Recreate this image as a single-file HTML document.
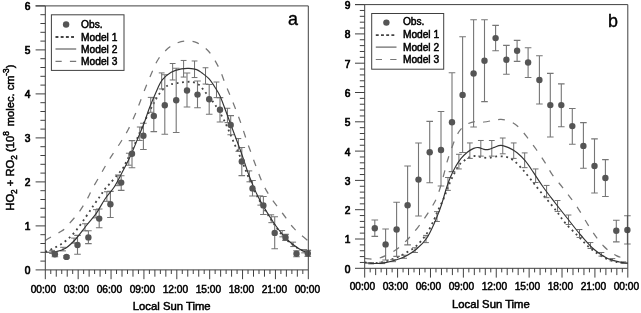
<!DOCTYPE html>
<html><head><meta charset="utf-8"><title>HO2 + RO2 diurnal profiles</title>
<style>
html,body{margin:0;padding:0;background:#fff;}
svg{display:block;}
text{font-family:"Liberation Sans",sans-serif;fill:#000;stroke:#000;stroke-width:.5px;}
.t10{font-size:10.2px;}
.ty{stroke-width:.7px;}
.t11{font-size:11.3px;}
.tlg{font-size:10.2px;}
.t11y{font-size:11.2px;}
.sub{font-size:8.3px;}
.tl{font-size:17.9px;stroke-width:.35px;}
</style></head><body>
<svg width="641" height="313" viewBox="0 0 641 313">
<rect width="641" height="313" fill="#fff"/>
<path d="M35.60 269.90H45.30M40.40 261.10H45.30M40.40 252.30H45.30M40.40 243.50H45.30M40.40 234.70H45.30M35.60 225.90H45.30M40.40 217.10H45.30M40.40 208.30H45.30M40.40 199.50H45.30M40.40 190.70H45.30M35.60 181.90H45.30M40.40 173.10H45.30M40.40 164.30H45.30M40.40 155.50H45.30M40.40 146.70H45.30M35.60 137.90H45.30M40.40 129.10H45.30M40.40 120.30H45.30M40.40 111.50H45.30M40.40 102.70H45.30M35.60 93.90H45.30M40.40 85.10H45.30M40.40 76.30H45.30M40.40 67.50H45.30M40.40 58.70H45.30M35.60 49.90H45.30M40.40 41.10H45.30M40.40 32.30H45.30M40.40 23.50H45.30M40.40 14.70H45.30M35.60 5.90H45.30M45.30 269.90V279.20M50.78 269.90V274.00M56.26 269.90V276.70M61.74 269.90V274.00M67.22 269.90V276.70M72.70 269.90V274.00M78.17 269.90V279.20M83.65 269.90V274.00M89.13 269.90V276.70M94.61 269.90V274.00M100.09 269.90V276.70M105.57 269.90V274.00M111.05 269.90V279.20M116.53 269.90V274.00M122.01 269.90V276.70M127.49 269.90V274.00M132.97 269.90V276.70M138.45 269.90V274.00M143.93 269.90V279.20M149.40 269.90V274.00M154.88 269.90V276.70M160.36 269.90V274.00M165.84 269.90V276.70M171.32 269.90V274.00M176.80 269.90V279.20M182.28 269.90V274.00M187.76 269.90V276.70M193.24 269.90V274.00M198.72 269.90V276.70M204.20 269.90V274.00M209.68 269.90V279.20M215.15 269.90V274.00M220.63 269.90V276.70M226.11 269.90V274.00M231.59 269.90V276.70M237.07 269.90V274.00M242.55 269.90V279.20M248.03 269.90V274.00M253.51 269.90V276.70M258.99 269.90V274.00M264.47 269.90V276.70M269.95 269.90V274.00M275.43 269.90V279.20M280.90 269.90V274.00M286.38 269.90V276.70M291.86 269.90V274.00M297.34 269.90V276.70M302.82 269.90V274.00M308.30 269.90V279.20" stroke="#404040" stroke-width="1" fill="none"/>
<path d="M45.3 240.5C46.1 240.0 47.5 239.1 50.2 237.5C52.9 235.9 59.1 232.7 61.7 231.0C64.3 229.3 62.8 230.5 65.6 227.5C68.4 224.5 74.8 217.7 78.4 212.9C82.0 208.1 84.9 203.0 87.3 198.8C89.7 194.7 90.3 192.3 92.7 188.0C95.1 183.7 98.8 177.6 101.6 172.7C104.4 167.8 106.6 163.7 109.8 158.6C113.0 153.5 117.7 146.9 120.8 142.0C123.9 137.1 126.2 133.5 128.5 129.0C130.8 124.5 133.1 119.2 134.9 115.1C136.7 111.0 137.4 108.8 139.2 104.2C141.0 99.6 143.5 92.8 145.6 87.5C147.7 82.2 149.9 77.0 152.0 72.2C154.1 67.5 155.6 63.1 158.4 59.0C161.2 54.9 165.4 50.5 168.6 47.8C171.8 45.1 174.5 43.9 177.5 42.8C180.5 41.7 183.3 41.0 186.5 41.0C189.7 41.0 193.0 40.9 196.7 42.6C200.4 44.4 205.1 47.3 208.8 51.5C212.5 55.7 216.2 62.5 219.0 68.0C221.8 73.5 223.4 79.5 225.6 84.8C227.8 90.1 230.0 95.2 232.0 100.1C234.0 105.0 235.9 109.7 237.6 114.2C239.3 118.7 240.6 122.3 242.2 127.0C243.8 131.7 245.6 137.5 247.3 142.4C249.0 147.3 250.7 151.8 252.4 156.5C254.1 161.2 255.8 165.8 257.6 170.5C259.4 175.2 261.0 179.9 263.2 184.5C265.4 189.1 267.8 193.2 271.0 198.0C274.2 202.8 278.5 208.0 282.3 213.0C286.1 218.0 289.5 223.5 293.8 228.2C298.1 232.9 305.9 238.9 308.3 241.0" stroke="#777777" stroke-width="1.25" stroke-dasharray="6.8 8.4" fill="none"/>
<path d="M45.3 251.8C47.0 251.1 51.9 249.2 55.3 247.4C58.7 245.6 62.2 243.8 65.6 241.0C69.0 238.2 72.4 234.9 75.8 230.8C79.2 226.8 83.0 221.0 86.0 216.7C89.0 212.4 91.4 208.6 93.7 205.2C96.0 201.8 98.3 198.8 100.1 196.3C101.8 193.8 102.7 192.0 104.2 190.0C105.7 188.0 107.0 186.9 109.3 184.2C111.6 181.5 115.8 176.8 118.2 174.0C120.6 171.2 122.1 169.4 123.4 167.5C124.7 165.6 124.3 165.8 126.0 162.4C127.7 159.0 131.3 152.1 133.6 147.0C135.9 141.9 137.9 136.6 140.0 131.7C142.1 126.8 144.2 122.3 146.4 117.7C148.6 113.1 151.2 108.0 153.2 104.2C155.2 100.5 156.5 98.0 158.4 95.2C160.3 92.4 162.7 89.3 164.8 87.5C166.9 85.7 168.4 85.0 171.2 84.2C174.0 83.4 178.0 82.8 181.4 82.4C184.8 82.0 188.6 81.5 191.6 81.9C194.6 82.3 197.2 83.5 199.3 85.0C201.4 86.5 202.2 88.4 204.0 90.6C205.8 92.8 208.1 95.5 210.0 98.0C211.9 100.5 213.2 101.8 215.6 105.6C218.0 109.4 221.4 114.8 224.3 120.7C227.2 126.6 230.8 135.4 233.2 141.0C235.6 146.6 237.0 149.4 239.0 154.0C241.0 158.6 242.7 162.8 245.0 168.5C247.3 174.2 250.2 181.9 253.0 188.0C255.8 194.1 258.8 199.5 262.0 205.0C265.2 210.5 268.5 215.8 272.0 221.0C275.5 226.2 279.2 231.8 283.0 236.0C286.8 240.2 290.8 243.7 295.0 246.5C299.2 249.3 306.1 251.9 308.3 253.0" stroke="#444444" stroke-width="1.8" stroke-dasharray="1.9 3.6" fill="none"/>
<path d="M52.10 250.41V253.51M49.20 250.41H55.00M49.20 253.51H55.00M63.06 247.29V250.89M60.16 247.29H65.96M60.16 250.89H65.96M74.02 238.08V243.14M71.12 238.08H76.92M71.12 243.14H76.92M84.97 223.77V230.84M82.07 223.77H87.88M82.07 230.84H87.88M95.93 209.64V217.87M93.03 209.64H98.83M93.03 217.87H98.83M106.89 191.76V201.29M103.99 191.76H109.79M103.99 201.29H109.79M117.85 175.01V185.66M114.95 175.01H120.75M114.95 185.66H120.75M128.81 153.23V165.19M125.91 153.23H131.71M125.91 165.19H131.71M139.77 127.00V140.41M136.87 127.00H142.67M136.87 140.41H142.67M150.72 97.38V112.28M147.82 97.38H153.62M147.82 112.28H153.62M161.68 72.91V88.96M158.78 72.91H164.58M158.78 88.96H164.58M172.64 63.50V79.97M169.74 63.50H175.54M169.74 79.97H175.54M183.60 60.45V77.06M180.70 60.45H186.50M180.70 77.06H186.50M194.56 60.97V77.56M191.66 60.97H197.46M191.66 77.56H197.46M205.52 67.76V84.05M202.62 67.76H208.42M202.62 84.05H208.42M216.47 82.02V97.65M213.57 82.02H219.38M213.57 97.65H219.38M227.43 108.26V122.63M224.53 108.26H230.33M224.53 122.63H230.33M238.39 138.59V151.37M235.49 138.59H241.29M235.49 151.37H241.29M249.35 170.90V181.80M246.45 170.90H252.25M246.45 181.80H252.25M260.31 195.88V205.13M257.41 195.88H263.21M257.41 205.13H263.21M271.27 214.84V222.67M268.37 214.84H274.17M268.37 222.67H274.17M282.23 230.57V236.83M279.33 230.57H285.12M279.33 236.83H285.12M293.18 242.15V246.56M290.28 242.15H296.08M290.28 246.56H296.08M304.14 249.63V252.85M301.24 249.63H307.04M301.24 252.85H307.04" stroke="#707070" stroke-width="1" fill="none"/>
<path d="M54.90 251.80V256.80M51.60 251.80H58.20M51.60 256.80H58.20M66.50 255.90V257.90M63.20 255.90H69.80M63.20 257.90H69.80M77.50 235.40V254.30M74.20 235.40H80.80M74.20 254.30H80.80M88.40 230.80V243.60M85.10 230.80H91.70M85.10 243.60H91.70M99.20 209.00V227.70M95.90 209.00H102.50M95.90 227.70H102.50M110.40 191.40V217.50M107.10 191.40H113.70M107.10 217.50H113.70M121.20 175.70V190.40M117.90 175.70H124.50M117.90 190.40H124.50M132.00 140.60V167.70M128.70 140.60H135.30M128.70 167.70H135.30M143.40 123.30V149.50M140.10 123.30H146.70M140.10 149.50H146.70M153.80 97.70V131.60M150.50 97.70H157.10M150.50 131.60H157.10M164.80 74.70V134.20M161.50 74.70H168.10M161.50 134.20H168.10M176.20 68.20V132.50M172.90 68.20H179.50M172.90 132.50H179.50M187.00 73.00V107.00M183.70 73.00H190.30M183.70 107.00H190.30M197.50 81.00V107.80M194.20 81.00H200.80M194.20 107.80H200.80M209.20 84.50V114.20M205.90 84.50H212.50M205.90 114.20H212.50M220.00 97.60V122.00M216.70 97.60H223.30M216.70 122.00H223.30M230.70 115.60V134.80M227.40 115.60H234.00M227.40 134.80H234.00M241.80 147.50V175.60M238.50 147.50H245.10M238.50 175.60H245.10M252.50 180.50V196.00M249.20 180.50H255.80M249.20 196.00H255.80M263.40 196.50V214.50M260.10 196.50H266.70M260.10 214.50H266.70M274.70 216.70V248.70M271.40 216.70H278.00M271.40 248.70H278.00M285.50 234.40V240.40M282.20 234.40H288.80M282.20 240.40H288.80M296.50 250.80V256.80M293.20 250.80H299.80M293.20 256.80H299.80M307.80 250.40V256.40M304.50 250.40H311.10M304.50 256.40H311.10" stroke="#767676" stroke-width="1.1" fill="none"/>
<path d="M45.3 252.3C47.0 252.2 51.9 252.5 55.3 251.8C58.7 251.1 62.2 250.3 65.6 248.2C69.0 246.1 72.4 242.7 75.8 239.0C79.2 235.3 82.6 230.3 86.0 226.0C89.4 221.7 93.1 217.8 96.3 213.3C99.5 208.8 102.0 203.4 105.0 199.0C108.0 194.6 111.3 191.5 114.4 186.7C117.5 181.9 120.6 175.4 123.4 170.1C126.2 164.8 128.7 159.9 131.0 154.8C133.3 149.7 135.3 144.5 137.4 139.4C139.5 134.3 141.8 129.2 143.8 124.0C145.8 118.8 147.4 113.2 149.4 108.0C151.4 102.8 153.7 97.4 155.8 92.7C157.9 88.0 159.6 83.3 162.2 79.9C164.8 76.5 168.0 74.0 171.2 72.2C174.4 70.4 178.4 69.5 181.4 68.9C184.4 68.3 186.4 68.3 189.0 68.4C191.6 68.5 194.5 68.8 196.7 69.6C198.9 70.4 200.0 71.5 202.0 73.0C204.0 74.5 206.6 76.2 208.9 78.7C211.2 81.2 213.8 85.4 215.6 88.3C217.4 91.2 218.3 92.3 220.0 96.0C221.7 99.7 223.4 104.7 225.6 110.5C227.8 116.3 230.6 124.1 233.2 131.0C235.8 137.9 238.3 144.5 241.0 152.0C243.7 159.5 246.4 168.6 249.2 176.0C252.0 183.4 254.8 190.1 258.0 196.5C261.2 202.9 264.8 208.7 268.2 214.2C271.6 219.7 275.1 225.0 278.5 229.5C281.9 234.0 285.3 237.8 288.7 241.0C292.1 244.2 295.7 246.6 299.0 248.7C302.3 250.8 306.8 252.5 308.3 253.3" stroke="#333333" stroke-width="1.15" fill="none"/>
<circle cx="54.9" cy="254.3" r="3.2" fill="#555555"/>
<circle cx="66.5" cy="256.9" r="3.2" fill="#555555"/>
<circle cx="77.5" cy="245.0" r="3.2" fill="#555555"/>
<circle cx="88.4" cy="237.4" r="3.2" fill="#555555"/>
<circle cx="99.2" cy="218.6" r="3.2" fill="#555555"/>
<circle cx="110.4" cy="204.3" r="3.2" fill="#555555"/>
<circle cx="121.2" cy="182.6" r="3.2" fill="#555555"/>
<circle cx="132.0" cy="153.8" r="3.2" fill="#555555"/>
<circle cx="143.4" cy="135.7" r="3.2" fill="#555555"/>
<circle cx="153.8" cy="116.0" r="3.2" fill="#555555"/>
<circle cx="164.8" cy="105.3" r="3.2" fill="#555555"/>
<circle cx="176.2" cy="100.2" r="3.2" fill="#555555"/>
<circle cx="187.0" cy="90.5" r="3.2" fill="#555555"/>
<circle cx="197.5" cy="94.6" r="3.2" fill="#555555"/>
<circle cx="209.2" cy="99.3" r="3.2" fill="#555555"/>
<circle cx="220.0" cy="109.8" r="3.2" fill="#555555"/>
<circle cx="230.7" cy="125.0" r="3.2" fill="#555555"/>
<circle cx="241.8" cy="161.5" r="3.2" fill="#555555"/>
<circle cx="252.5" cy="188.4" r="3.2" fill="#555555"/>
<circle cx="263.4" cy="205.4" r="3.2" fill="#555555"/>
<circle cx="274.7" cy="232.9" r="3.2" fill="#555555"/>
<circle cx="285.5" cy="237.4" r="3.2" fill="#555555"/>
<circle cx="296.5" cy="253.8" r="3.2" fill="#555555"/>
<circle cx="307.8" cy="253.4" r="3.2" fill="#555555"/>
<path d="M45.30 5.90H308.30V269.90H45.30Z" stroke="#404040" stroke-width="1" fill="none"/>
<path d="M35.60 5.90H45.30" stroke="#404040" stroke-width="1" fill="none"/>
<text class="t10 ty" x="30.4" y="273.5" text-anchor="end">0</text>
<text class="t10 ty" x="30.4" y="229.5" text-anchor="end">1</text>
<text class="t10 ty" x="30.4" y="185.5" text-anchor="end">2</text>
<text class="t10 ty" x="30.4" y="141.5" text-anchor="end">3</text>
<text class="t10 ty" x="30.4" y="97.5" text-anchor="end">4</text>
<text class="t10 ty" x="30.4" y="53.5" text-anchor="end">5</text>
<text class="t10 ty" x="30.4" y="9.5" text-anchor="end">6</text>
<text class="t10" x="43.4" y="292.5" text-anchor="middle">00:00</text>
<text class="t10" x="76.4" y="292.5" text-anchor="middle">03:00</text>
<text class="t10" x="109.4" y="292.5" text-anchor="middle">06:00</text>
<text class="t10" x="142.4" y="292.5" text-anchor="middle">09:00</text>
<text class="t10" x="175.4" y="292.5" text-anchor="middle">12:00</text>
<text class="t10" x="208.4" y="292.5" text-anchor="middle">15:00</text>
<text class="t10" x="241.4" y="292.5" text-anchor="middle">18:00</text>
<text class="t10" x="274.4" y="292.5" text-anchor="middle">21:00</text>
<text class="t10" x="307.4" y="292.5" text-anchor="middle">00:00</text>
<text class="t11" x="171.7" y="310.4" text-anchor="middle">Local Sun Time</text>
<rect x="51.4" y="14.8" width="72.6" height="55.6" fill="#fff" stroke="#404040" stroke-width="1"/>
<circle cx="66.1" cy="24.5" r="3.2" fill="#555555"/>
<path d="M55.5 37.0H74.4" stroke="#444444" stroke-width="1.8" stroke-dasharray="2.9 2.3"/>
<path d="M55.5 49.0H76.2" stroke="#555" stroke-width="1.1"/>
<path d="M55.5 61.4H61.7M69.9 61.4H76.2" stroke="#777777" stroke-width="1.2"/>
<text class="tlg" x="81.1" y="27.7">Obs.</text>
<text class="tlg" x="81.1" y="40.8">Model 1</text>
<text class="tlg" x="81.1" y="53.1">Model 2</text>
<text class="tlg" x="81.1" y="65.2">Model 3</text>
<text class="tl" x="287.9" y="24.9">a</text>
<path d="M355.00 268.30H364.70M359.80 262.44H364.70M359.80 256.58H364.70M359.80 250.72H364.70M359.80 244.86H364.70M355.00 239.00H364.70M359.80 233.14H364.70M359.80 227.28H364.70M359.80 221.42H364.70M359.80 215.56H364.70M355.00 209.70H364.70M359.80 203.84H364.70M359.80 197.98H364.70M359.80 192.12H364.70M359.80 186.26H364.70M355.00 180.40H364.70M359.80 174.54H364.70M359.80 168.68H364.70M359.80 162.82H364.70M359.80 156.96H364.70M355.00 151.10H364.70M359.80 145.24H364.70M359.80 139.38H364.70M359.80 133.52H364.70M359.80 127.66H364.70M355.00 121.80H364.70M359.80 115.94H364.70M359.80 110.08H364.70M359.80 104.22H364.70M359.80 98.36H364.70M355.00 92.50H364.70M359.80 86.64H364.70M359.80 80.78H364.70M359.80 74.92H364.70M359.80 69.06H364.70M355.00 63.20H364.70M359.80 57.34H364.70M359.80 51.48H364.70M359.80 45.62H364.70M359.80 39.76H364.70M355.00 33.90H364.70M359.80 28.04H364.70M359.80 22.18H364.70M359.80 16.32H364.70M359.80 10.46H364.70M355.00 4.60H364.70M364.70 268.30V277.60M370.18 268.30V272.40M375.66 268.30V275.10M381.14 268.30V272.40M386.62 268.30V275.10M392.11 268.30V272.40M397.59 268.30V277.60M403.07 268.30V272.40M408.55 268.30V275.10M414.03 268.30V272.40M419.51 268.30V275.10M424.99 268.30V272.40M430.47 268.30V277.60M435.96 268.30V272.40M441.44 268.30V275.10M446.92 268.30V272.40M452.40 268.30V275.10M457.88 268.30V272.40M463.36 268.30V277.60M468.84 268.30V272.40M474.32 268.30V275.10M479.81 268.30V272.40M485.29 268.30V275.10M490.77 268.30V272.40M496.25 268.30V277.60M501.73 268.30V272.40M507.21 268.30V275.10M512.69 268.30V272.40M518.17 268.30V275.10M523.66 268.30V272.40M529.14 268.30V277.60M534.62 268.30V272.40M540.10 268.30V275.10M545.58 268.30V272.40M551.06 268.30V275.10M556.54 268.30V272.40M562.02 268.30V277.60M567.51 268.30V272.40M572.99 268.30V275.10M578.47 268.30V272.40M583.95 268.30V275.10M589.43 268.30V272.40M594.91 268.30V277.60M600.39 268.30V272.40M605.88 268.30V275.10M611.36 268.30V272.40M616.84 268.30V275.10M622.32 268.30V272.40M627.80 268.30V277.60" stroke="#404040" stroke-width="1" fill="none"/>
<path d="M364.7 258.4C366.5 258.5 371.8 259.5 375.3 259.0C378.8 258.5 381.8 257.4 385.6 255.6C389.5 253.8 394.2 251.3 398.4 248.0C402.6 244.7 406.7 240.6 411.0 235.8C415.3 231.0 420.3 224.1 424.0 219.0C427.7 213.9 430.8 208.7 433.0 205.0C435.2 201.3 435.8 200.1 437.0 197.0C438.2 193.9 439.3 190.8 440.5 186.7C441.7 182.6 443.2 176.8 444.3 172.7C445.4 168.6 445.8 166.0 446.9 162.4C448.0 158.8 449.2 155.1 450.7 150.9C452.2 146.8 454.1 141.1 455.8 137.5C457.5 133.9 459.0 131.4 460.9 129.2C462.8 127.0 464.9 125.4 467.3 124.1C469.7 122.8 472.2 121.8 475.0 121.5C477.8 121.2 480.8 122.2 484.0 122.0C487.2 121.8 491.3 120.6 494.2 120.2C497.1 119.8 498.4 119.2 501.1 119.4C503.9 119.7 507.8 120.4 510.7 121.7C513.6 123.0 516.0 124.7 518.7 127.2C521.4 129.7 523.8 133.0 526.7 136.7C529.6 140.4 533.1 145.0 536.3 149.5C539.5 154.0 543.2 159.7 545.9 163.9C548.6 168.1 549.2 170.4 552.4 174.8C555.6 179.2 560.7 184.9 565.0 190.5C569.3 196.1 573.7 201.9 578.0 208.3C582.3 214.7 586.5 222.7 590.7 229.0C595.0 235.3 599.2 241.6 603.5 246.0C607.8 250.4 612.2 253.4 616.3 255.6C620.3 257.8 625.9 258.4 627.8 259.0" stroke="#777777" stroke-width="1.25" stroke-dasharray="6.8 8.4" fill="none"/>
<path d="M364.7 262.4C366.5 262.5 371.8 263.4 375.3 263.2C378.8 263.0 382.2 262.3 385.6 261.4C389.0 260.5 392.4 259.2 395.8 257.8C399.2 256.4 402.6 254.7 406.0 252.7C409.4 250.7 412.9 249.1 416.3 246.0C419.7 242.9 423.5 238.4 426.5 234.0C429.5 229.6 432.3 223.2 434.2 219.3C436.1 215.4 436.4 213.7 438.0 210.3C439.6 206.9 441.9 202.6 443.5 199.0C445.1 195.4 445.9 192.5 447.3 189.0C448.7 185.5 450.1 181.8 452.0 178.0C453.9 174.2 456.5 168.8 458.4 166.0C460.3 163.2 461.8 162.6 463.5 161.2C465.2 159.8 466.7 158.5 468.6 157.6C470.5 156.7 472.9 156.1 475.0 156.0C477.1 155.9 479.1 157.0 481.4 157.3C483.7 157.6 486.4 158.0 489.0 157.8C491.6 157.7 493.9 156.6 496.7 156.4C499.5 156.2 503.1 156.2 506.0 156.9C508.9 157.6 511.4 158.7 514.0 160.7C516.6 162.7 519.2 165.8 521.9 168.7C524.5 171.6 527.0 174.7 529.9 178.3C532.8 181.9 535.2 185.2 539.5 190.5C543.8 195.8 551.4 204.6 555.6 210.0C559.9 215.4 561.3 218.4 565.0 222.7C568.7 227.0 573.8 231.8 578.0 236.0C582.2 240.2 585.8 244.5 590.0 248.0C594.2 251.5 598.7 254.7 603.0 257.0C607.3 259.3 611.9 260.8 616.0 261.8C620.1 262.9 625.8 263.1 627.8 263.3" stroke="#444444" stroke-width="1.8" stroke-dasharray="1.9 3.6" fill="none"/>
<path d="M371.20 262.57V263.89M368.30 262.57H374.10M368.30 263.89H374.10M382.16 262.20V263.60M379.26 262.20H385.06M379.26 263.60H385.06M393.12 259.69V261.67M390.23 259.69H396.02M390.23 261.67H396.02M404.09 255.25V258.25M401.19 255.25H406.99M401.19 258.25H406.99M415.05 247.75V252.47M412.15 247.75H417.95M412.15 252.47H417.95M426.01 235.42V242.62M423.11 235.42H428.91M423.11 242.62H428.91M436.97 211.64V221.48M434.07 211.64H439.87M434.07 221.48H439.87M447.94 177.47V190.36M445.04 177.47H450.84M445.04 190.36H450.84M458.90 154.29V168.95M456.00 154.29H461.80M456.00 168.95H461.80M469.86 142.95V158.41M466.96 142.95H472.76M466.96 158.41H472.76M480.82 140.48V156.12M477.93 140.48H483.72M477.93 156.12H483.72M491.79 140.51V156.14M488.89 140.51H494.69M488.89 156.14H494.69M502.75 138.01V153.82M499.85 138.01H505.65M499.85 153.82H505.65M513.71 142.94V158.40M510.81 142.94H516.61M510.81 158.40H516.61M524.67 152.90V167.65M521.77 152.90H527.57M521.77 167.65H527.57M535.64 168.94V182.50M532.74 168.94H538.54M532.74 182.50H538.54M546.60 185.43V197.66M543.70 185.43H549.50M543.70 197.66H549.50M557.56 200.52V211.42M554.66 200.52H560.46M554.66 211.42H560.46M568.52 215.03V224.53M565.62 215.03H571.42M565.62 224.53H571.42M579.49 229.53V237.44M576.59 229.53H582.39M576.59 237.44H582.39M590.45 242.55V248.46M587.55 242.55H593.35M587.55 248.46H593.35M601.41 252.49V256.12M598.51 252.49H604.31M598.51 256.12H604.31M612.38 258.60V260.83M609.48 258.60H615.27M609.48 260.83H615.27M623.34 261.86V263.34M620.44 261.86H626.24M620.44 263.34H626.24" stroke="#707070" stroke-width="1" fill="none"/>
<path d="M374.80 220.00V236.40M371.50 220.00H378.10M371.50 236.40H378.10M385.60 229.00V260.00M382.30 229.00H388.90M382.30 260.00H388.90M396.60 202.20V256.40M393.30 202.20H399.90M393.30 256.40H399.90M407.60 166.00V244.90M404.30 166.00H410.90M404.30 244.90H410.90M418.50 143.00V216.00M415.20 143.00H421.80M415.20 216.00H421.80M429.70 121.40V182.80M426.40 121.40H433.00M426.40 182.80H433.00M441.00 111.50V186.00M437.70 111.50H444.30M437.70 186.00H444.30M452.00 72.80V171.60M448.70 72.80H455.30M448.70 171.60H455.30M462.60 36.70V152.50M459.30 36.70H465.90M459.30 152.50H465.90M473.60 19.80V127.00M470.30 19.80H476.90M470.30 127.00H476.90M484.50 19.80V101.60M481.20 19.80H487.80M481.20 101.60H487.80M495.60 25.40V50.80M492.30 25.40H498.90M492.30 50.80H498.90M506.40 45.40V74.20M503.10 45.40H509.70M503.10 74.20H509.70M517.10 40.40V61.40M513.80 40.40H520.40M513.80 61.40H520.40M528.10 47.80V77.50M524.80 47.80H531.40M524.80 77.50H531.40M539.40 55.80V104.00M536.10 55.80H542.70M536.10 104.00H542.70M550.30 73.40V137.00M547.00 73.40H553.60M547.00 137.00H553.60M561.30 83.90V126.70M558.00 83.90H564.60M558.00 126.70H564.60M572.30 108.50V144.30M569.00 108.50H575.60M569.00 144.30H575.60M583.40 122.60V168.30M580.10 122.60H586.70M580.10 168.30H586.70M594.50 138.90V193.00M591.20 138.90H597.80M591.20 193.00H597.80M605.40 159.60V196.50M602.10 159.60H608.70M602.10 196.50H608.70M616.30 220.20V241.90M613.00 220.20H619.60M613.00 241.90H619.60M627.40 215.70V244.00M624.10 215.70H630.70M624.10 244.00H630.70" stroke="#767676" stroke-width="1.1" fill="none"/>
<path d="M364.7 262.8C366.5 262.9 371.8 263.5 375.3 263.5C378.8 263.5 382.2 263.2 385.6 262.6C389.0 262.0 392.4 261.1 395.8 260.0C399.2 258.9 402.6 257.8 406.0 256.0C409.4 254.2 412.9 252.2 416.3 249.3C419.7 246.4 423.5 242.8 426.5 238.5C429.5 234.2 431.9 228.4 434.2 223.5C436.4 218.6 438.4 213.2 440.0 209.0C441.6 204.8 442.4 201.7 443.5 198.0C444.6 194.3 445.7 190.3 446.9 186.7C448.1 183.1 449.2 179.9 450.7 176.5C452.2 173.1 454.1 169.3 455.8 166.3C457.5 163.3 459.0 160.9 460.9 158.6C462.8 156.2 465.2 153.9 467.3 152.2C469.4 150.5 471.8 149.2 473.7 148.4C475.6 147.6 477.1 147.4 478.8 147.6C480.5 147.8 482.3 149.1 484.0 149.4C485.7 149.7 487.3 149.7 489.0 149.4C490.7 149.1 492.2 148.1 494.2 147.4C496.2 146.7 498.6 145.3 501.1 145.4C503.6 145.5 506.4 146.7 509.1 147.9C511.8 149.1 514.4 150.6 517.1 152.7C519.8 154.8 522.4 157.5 525.1 160.7C527.8 163.9 530.2 167.6 533.1 171.9C536.0 176.2 539.0 181.2 542.8 186.5C546.5 191.8 551.4 198.0 555.6 203.5C559.9 209.0 564.0 214.2 568.3 219.5C572.5 224.8 576.8 230.6 581.1 235.5C585.4 240.4 589.6 245.5 593.9 249.2C598.2 252.9 602.4 255.8 606.7 257.9C611.0 260.0 616.0 261.1 619.5 262.0C623.0 262.9 626.4 263.1 627.8 263.3" stroke="#333333" stroke-width="1.15" fill="none"/>
<circle cx="374.8" cy="228.2" r="3.2" fill="#555555"/>
<circle cx="385.6" cy="244.4" r="3.2" fill="#555555"/>
<circle cx="396.6" cy="229.5" r="3.2" fill="#555555"/>
<circle cx="407.6" cy="205.2" r="3.2" fill="#555555"/>
<circle cx="418.5" cy="179.6" r="3.2" fill="#555555"/>
<circle cx="429.7" cy="152.3" r="3.2" fill="#555555"/>
<circle cx="441.0" cy="150.0" r="3.2" fill="#555555"/>
<circle cx="452.0" cy="122.3" r="3.2" fill="#555555"/>
<circle cx="462.6" cy="94.9" r="3.2" fill="#555555"/>
<circle cx="473.6" cy="73.5" r="3.2" fill="#555555"/>
<circle cx="484.5" cy="60.7" r="3.2" fill="#555555"/>
<circle cx="495.6" cy="38.1" r="3.2" fill="#555555"/>
<circle cx="506.4" cy="59.8" r="3.2" fill="#555555"/>
<circle cx="517.1" cy="50.7" r="3.2" fill="#555555"/>
<circle cx="528.1" cy="62.5" r="3.2" fill="#555555"/>
<circle cx="539.4" cy="80.0" r="3.2" fill="#555555"/>
<circle cx="550.3" cy="105.1" r="3.2" fill="#555555"/>
<circle cx="561.3" cy="105.1" r="3.2" fill="#555555"/>
<circle cx="572.3" cy="126.1" r="3.2" fill="#555555"/>
<circle cx="583.4" cy="145.9" r="3.2" fill="#555555"/>
<circle cx="594.5" cy="166.0" r="3.2" fill="#555555"/>
<circle cx="605.4" cy="178.0" r="3.2" fill="#555555"/>
<circle cx="616.3" cy="230.7" r="3.2" fill="#555555"/>
<circle cx="627.4" cy="230.0" r="3.2" fill="#555555"/>
<path d="M364.70 4.60H627.80V268.30H364.70Z" stroke="#404040" stroke-width="1" fill="none"/>
<path d="M355.00 4.60H364.70" stroke="#404040" stroke-width="1" fill="none"/>
<text class="t10 ty" x="350.3" y="272.7" text-anchor="end">0</text>
<text class="t10 ty" x="350.3" y="243.4" text-anchor="end">1</text>
<text class="t10 ty" x="350.3" y="214.1" text-anchor="end">2</text>
<text class="t10 ty" x="350.3" y="184.8" text-anchor="end">3</text>
<text class="t10 ty" x="350.3" y="155.5" text-anchor="end">4</text>
<text class="t10 ty" x="350.3" y="126.2" text-anchor="end">5</text>
<text class="t10 ty" x="350.3" y="96.9" text-anchor="end">6</text>
<text class="t10 ty" x="350.3" y="67.6" text-anchor="end">7</text>
<text class="t10 ty" x="350.3" y="38.3" text-anchor="end">8</text>
<text class="t10 ty" x="350.3" y="9.0" text-anchor="end">9</text>
<text class="t10" x="362.4" y="290.4" text-anchor="middle">00:00</text>
<text class="t10" x="395.4" y="290.4" text-anchor="middle">03:00</text>
<text class="t10" x="428.4" y="290.4" text-anchor="middle">06:00</text>
<text class="t10" x="461.4" y="290.4" text-anchor="middle">09:00</text>
<text class="t10" x="494.4" y="290.4" text-anchor="middle">12:00</text>
<text class="t10" x="527.4" y="290.4" text-anchor="middle">15:00</text>
<text class="t10" x="560.4" y="290.4" text-anchor="middle">18:00</text>
<text class="t10" x="593.4" y="290.4" text-anchor="middle">21:00</text>
<text class="t10" x="626.4" y="290.4" text-anchor="middle">00:00</text>
<text class="t11" x="490.9" y="308.4" text-anchor="middle">Local Sun Time</text>
<rect x="371.7" y="13.5" width="72.0" height="55.7" fill="#fff" stroke="#404040" stroke-width="1"/>
<circle cx="386.4" cy="22.6" r="3.2" fill="#555555"/>
<path d="M375.8 35.1H394.7" stroke="#444444" stroke-width="1.8" stroke-dasharray="2.9 2.3"/>
<path d="M375.8 47.1H396.5" stroke="#555" stroke-width="1.1"/>
<path d="M375.8 59.5H382.0M390.2 59.5H396.5" stroke="#777777" stroke-width="1.2"/>
<text class="tlg" x="402.9" y="25.3">Obs.</text>
<text class="tlg" x="402.9" y="38.4">Model 1</text>
<text class="tlg" x="402.9" y="50.7">Model 2</text>
<text class="tlg" x="402.9" y="62.8">Model 3</text>
<text class="tl" x="607.9" y="27.2">b</text>
<text class="t11y" transform="translate(13.8 210.7) rotate(-90)">HO<tspan class="sub" dy="3.2">2</tspan><tspan dy="-3.2"> + RO</tspan><tspan class="sub" dy="3.2">2</tspan><tspan dy="-3.2"> (10</tspan><tspan class="sub" dy="-4.8">8</tspan><tspan dy="4.8" dx="1.8"> molec. cm</tspan><tspan class="sub" dy="-4.8" dx="-0.4">-3</tspan><tspan dy="4.8">)</tspan></text>
</svg>
</body></html>
